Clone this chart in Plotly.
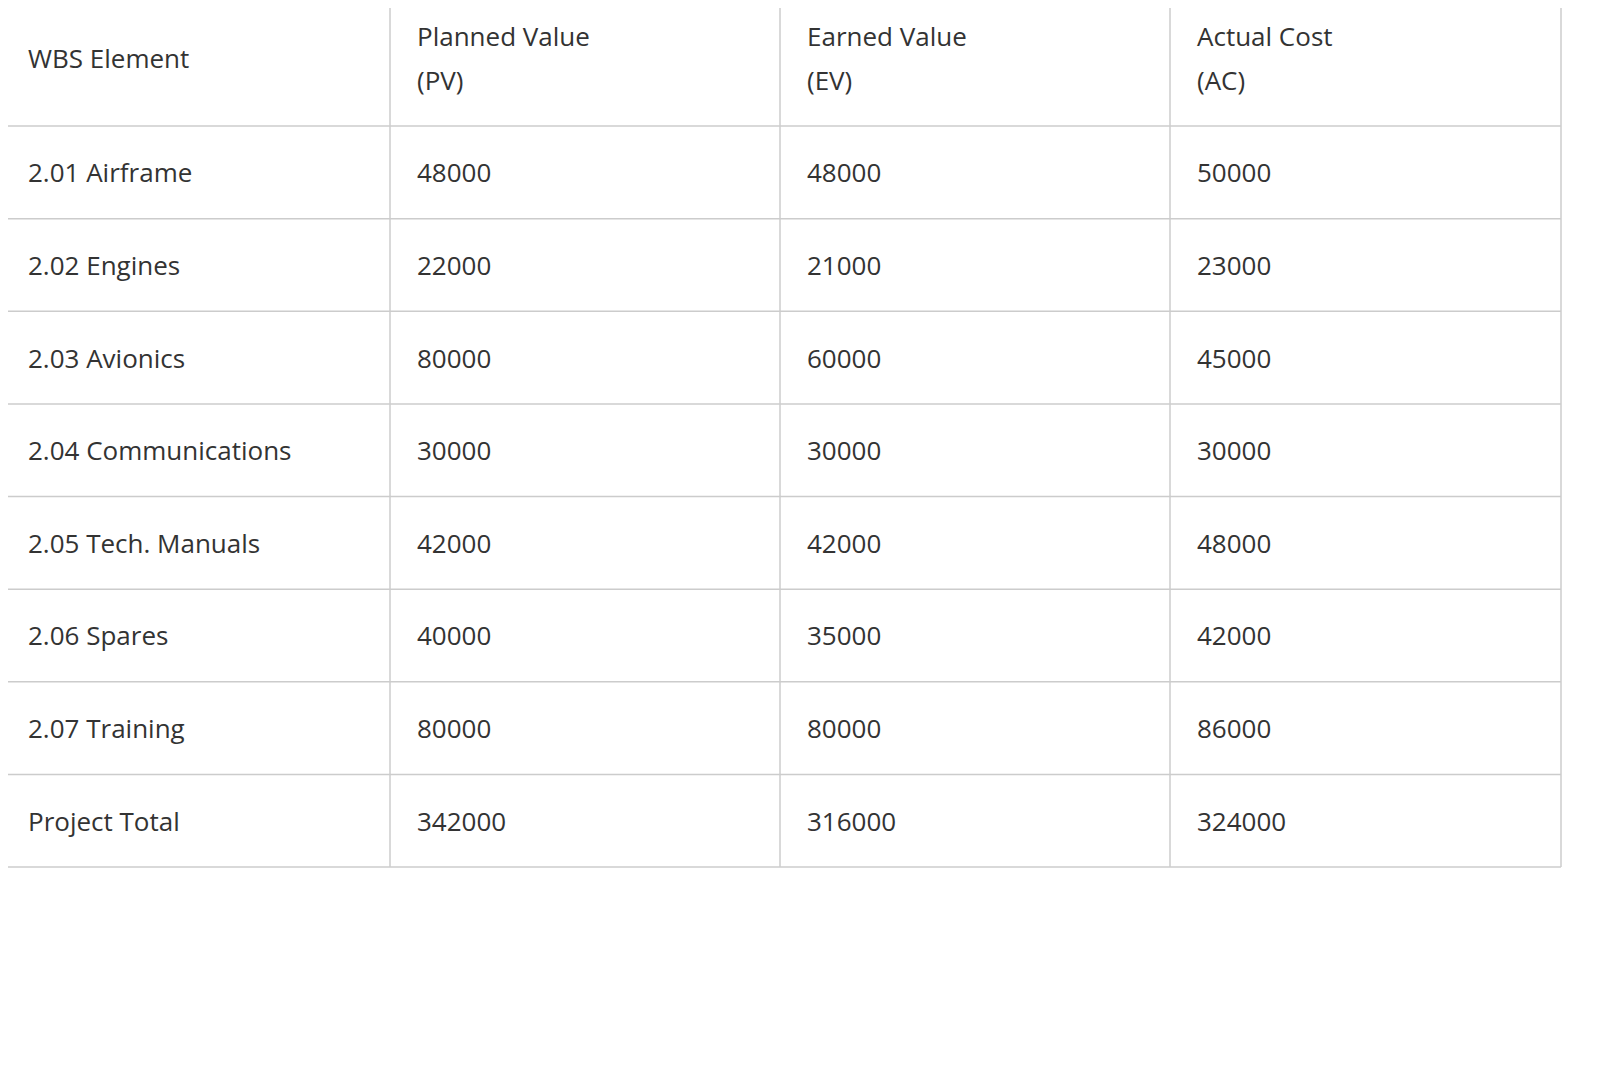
import plotly.graph_objects as go

header_line1 = ["", "Planned Value", "Earned Value", "Actual Cost"]
header_line2 = ["", "(PV)", "(EV)", "(AC)"]
first_header = "WBS Element"
elements = ["2.01 Airframe", "2.02 Engines", "2.03 Avionics", "2.04 Communications",
            "2.05 Tech. Manuals", "2.06 Spares", "2.07 Training", "Project Total"]
pv = [48000, 22000, 80000, 30000, 42000, 40000, 80000, 342000]
ev = [48000, 21000, 60000, 30000, 42000, 35000, 80000, 316000]
ac = [50000, 23000, 45000, 30000, 48000, 42000, 86000, 324000]
caption1 = "Figure 14.1 Drug Surveillance Aircraft Project - Monthly Performance Report"
caption2 = "(October 31, 20XX)"
question = "Consider the project performance report presented in figure 14.1. As a project manager, these results should lead you to..."

W, H = 1604, 1068
OFF = 8  # page body margin
col_edges = [1, 390, 780, 1170, 1561]
header_h = 126
row_h = (867 - header_h) / len(elements)
row_edges = [1, header_h] + [header_h + row_h * (i + 1) for i in range(len(elements))]
font = dict(family="Open Sans", size=26, color="#333333")
border = "#cccccc"

fig = go.Figure()
shapes = []
for x in col_edges:
    shapes.append(dict(type="line", x0=x, x1=x, y0=row_edges[0], y1=row_edges[-1], xref="x", yref="y",
                       line=dict(color=border, width=1.5)))
for y in row_edges:
    shapes.append(dict(type="line", x0=col_edges[0], x1=col_edges[-1], y0=y, y1=y, xref="x", yref="y",
                       line=dict(color=border, width=1.5)))

ann = []
pad = 25
def add(x, y, t):
    ann.append(dict(x=x, y=y, text=t, showarrow=False, xanchor="left",
                    yanchor="middle", align="left", font=font))

add(col_edges[0] + pad, 58, first_header)
for j in range(1, 4):
    add(col_edges[j] + pad, 36, header_line1[j])
    add(col_edges[j] + pad, 80, header_line2[j])
cols = [elements, pv, ev, ac]
for i in range(len(elements)):
    yc = (row_edges[i + 1] + row_edges[i + 2]) / 2
    for j, c in enumerate(cols):
        add(col_edges[j] + pad, yc, str(c[i]))
add(0, 890, caption1)
add(0, 934, caption2)
add(0, 1022, question)

fig.update_layout(width=W - 2 * OFF, height=H - 2 * OFF, margin=dict(l=0, r=0, t=0, b=0),
                  plot_bgcolor="white", paper_bgcolor="white",
                  xaxis=dict(range=[OFF, W - OFF], visible=False, fixedrange=True),
                  yaxis=dict(range=[H - OFF, OFF], visible=False, fixedrange=True),
                  shapes=shapes, annotations=ann, showlegend=False)
fig.write_html("out.html")
